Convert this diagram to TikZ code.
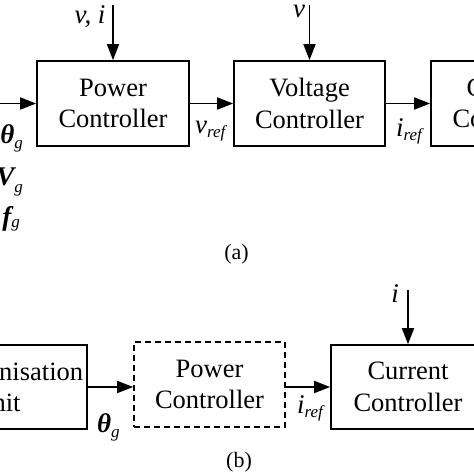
\documentclass[tikz,border=0pt]{standalone}
\usepackage{fontspec}
\setmainfont{Liberation Serif}
\usetikzlibrary{arrows.meta}
\newcommand{\mysub}[2][4pt]{\raisebox{-#1}{\fontsize{17}{17}\selectfont\mdseries\itshape #2}}
\begin{document}
\begin{tikzpicture}[x=1pt,y=-1pt,
  blk/.style={draw, line width=1.7pt, minimum height=85pt, align=center, inner sep=0pt, font=\fontsize{26.5}{31.7}\selectfont},
  dblk/.style={blk, dash pattern=on 6pt off 4pt},
  arr/.style={line width=1.7pt, -{Triangle[length=16pt,width=12pt]}},
  lbl/.style={inner sep=0pt, font=\fontsize{27}{27}\selectfont\itshape},
  capt/.style={inner sep=0pt, font=\fontsize{22}{22}\selectfont}]
\useasboundingbox (0,0) rectangle (474,474);
\clip (0,0) rectangle (474,474);
\fill[white] (0,0) rectangle (474,474);
% boxes (a)
\node[blk, minimum width=152pt] (pc) at (113,103.5) {Power\\Controller};
\node[blk, minimum width=151pt] (vc) at (309.5,103.5) {Voltage\\Controller};
\node[blk, minimum width=152pt] (cc) at (507,103.5) {Current\\Controller};
% boxes (b)
\node[blk, minimum width=180pt, minimum height=84pt] (su) at (-3,387) {Synchronisation\\Unit};
\node[dblk, minimum width=151pt] (pcd) at (209.5,384.5) {Power\\Controller};
\node[blk, minimum width=154pt, minimum height=84pt] (cc2) at (408,387) {Current\\Controller};
% free ends
\coordinate (ina) at (-5,103.5);
\coordinate (vitop) at (113,5);
\coordinate (vtop) at (309.5,5);
\coordinate (itop) at (408,290);
% connectors
\draw[arr] (ina) -- (pc.west);
\draw[arr] (vitop) -- (pc.north);
\draw[arr] (pc.east) -- (vc.west);
\draw[arr] (vtop) -- (vc.north);
\draw[arr] (vc.east) -- (cc.west);
\draw[arr] (su.east) -- (su.east -| pcd.west);
\draw[arr] (pcd.east |- cc2.west) -- (cc2.west);
\draw[arr] (itop) -- (cc2.north);
% labels
\node[lbl, anchor=base] (lvi) at (90,23) {v, i};
\node[lbl, anchor=base] (lv) at (299,17) {v};
\node[lbl, anchor=base] (li) at (395,302) {i};
\node[lbl, anchor=base west] (lvref) at (195,133) {v\mysub{ref}};
\node[lbl, anchor=base west] (liref) at (396,136) {i\mysub{ref}};
\node[lbl, anchor=base west] (liref2) at (297,413) {i\mysub{ref}};
\node[lbl, anchor=base west] (lthb) at (97,432) {\bfseries θ\mysub[5pt]{g}};
\node[lbl, anchor=base east] (lth) at (23,143) {\bfseries θ\mysub[5pt]{g}};
\node[lbl, anchor=base east] (lV) at (23,185) {\bfseries V\mysub[7pt]{g}};
\node[lbl, anchor=base east] (lf) at (20,225) {\bfseries f\mysub[2pt]{g}};
\node[capt] (ca) at (236.5,254) {(a)};
\node[capt] (cb) at (239,462) {(b)};
\end{tikzpicture}
\end{document}
